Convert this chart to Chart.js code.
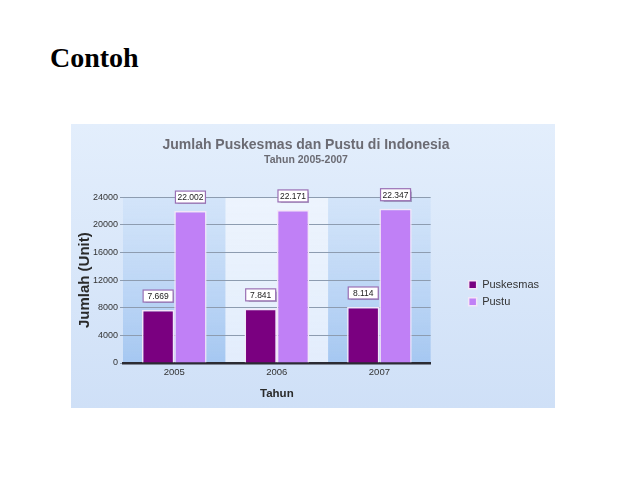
<!DOCTYPE html>
<html>
<head>
<meta charset="utf-8">
<script src="https://cdn.jsdelivr.net/npm/chart.js@4.4.1/dist/chart.umd.min.js"></script>
<style>
  body { margin: 0; background: #fff; width: 638px; height: 478px; position: relative; overflow: hidden; }
  h1 { position: absolute; left: 50px; top: 42px; margin: 0; font: bold 28px "Liberation Serif", serif; color: #000; }
  #panel { position: absolute; left: 71px; top: 124px; width: 484px; height: 284px;
           background: linear-gradient(#e3eefc, #cfe0f7); }
</style>
</head>
<body>
<h1>Contoh</h1>
<div id="panel"><canvas id="chart" width="484" height="284"></canvas></div>
<script>
// Data
const years = ['2005', '2006', '2007'];
const puskesmas = [7669, 7841, 8114];
const pustu = [22002, 22171, 22347];
const yTicks = [0, 4000, 8000, 12000, 16000, 20000, 24000];

function formatId(v) {
  return String(v).replace(/\B(?=(\d{3})+(?!\d))/g, '.');
}

// Alternating category bands behind the grid
const bandPlugin = {
  id: 'bands',
  beforeDraw(chart) {
    const { ctx, chartArea, scales } = chart;
    const x = scales.x;
    const step = chartArea.width / years.length;
    years.forEach((y, i) => {
      const left = x.getPixelForValue(i) - step / 2;
      const g = ctx.createLinearGradient(0, chartArea.top, 0, chartArea.bottom);
      if (i % 2 === 0) {
        g.addColorStop(0, 'rgba(200,222,248,0.5)');
        g.addColorStop(1, 'rgba(160,196,240,0.9)');
      } else {
        g.addColorStop(0, 'rgba(240,246,254,0.8)');
        g.addColorStop(1, 'rgba(228,238,252,0.9)');
      }
      ctx.save();
      ctx.fillStyle = g;
      ctx.fillRect(left, chartArea.top, step, chartArea.bottom - chartArea.top);
      ctx.restore();
    });
  }
};

// Value boxes above the bars
const labelPlugin = {
  id: 'valueBoxes',
  afterDatasetsDraw(chart) {
    const { ctx } = chart;
    chart.data.datasets.forEach((ds, di) => {
      const meta = chart.getDatasetMeta(di);
      meta.data.forEach((bar, i) => {
        const text = formatId(ds.data[i]);
        const w = 30, h = 12;
        const bx = bar.x - w / 2;
        const by = bar.y - 8 - h;
        ctx.save();
        ctx.shadowColor = 'rgba(60,40,90,0.35)';
        ctx.shadowOffsetX = 1;
        ctx.shadowOffsetY = 1;
        ctx.shadowBlur = 1;
        ctx.fillStyle = '#ffffff';
        ctx.fillRect(bx, by, w, h);
        ctx.shadowColor = 'transparent';
        ctx.strokeStyle = '#9a6fb4';
        ctx.lineWidth = 1.2;
        ctx.strokeRect(bx, by, w, h);
        ctx.fillStyle = '#222';
        ctx.font = '8.5px "Liberation Sans", Arial, sans-serif';
        ctx.textAlign = 'center';
        ctx.textBaseline = 'middle';
        ctx.fillText(text, bar.x, by + h / 2 + 0.5);
        ctx.restore();
      });
    });
  }
};

const ctx = document.getElementById('chart').getContext('2d');
new Chart(ctx, {
  type: 'bar',
  data: {
    labels: years,
    datasets: [
      {
        label: 'Puskesmas',
        data: puskesmas,
        backgroundColor: '#7a0080',
        borderColor: '#f3e6f8',
        borderWidth: 1.5,
        barPercentage: 1,
        categoryPercentage: 0.63
      },
      {
        label: 'Pustu',
        data: pustu,
        backgroundColor: '#c080f6',
        borderColor: '#f3e6f8',
        borderWidth: 1.5,
        barPercentage: 1,
        categoryPercentage: 0.63
      }
    ]
  },
  options: {
    responsive: false,
    animation: false,
    layout: { padding: { left: 0, right: 14, top: 0, bottom: 0 } },
    scales: {
      y: {
        min: 0,
        max: 24000,
        afterBuildTicks(scale) {
          scale.ticks = yTicks.map(v => ({ value: v }));
        },
        afterFit(scale) { scale.width = 52; },
        ticks: {
          color: '#333',
          font: { size: 9, family: '"Liberation Sans", Arial, sans-serif' },
          padding: 2,
          callback: v => String(v)
        },
        grid: { color: '#8d9cb0', lineWidth: 1, tickLength: 3, drawTicks: true },
        border: { display: false },
        title: {
          display: true,
          text: 'Jumlah (Unit)',
          color: '#2a2a2a',
          font: { size: 15, weight: 'bold', family: '"Liberation Sans", Arial, sans-serif' },
          padding: { top: 5, bottom: 0 }
        }
      },
      spacer: {
        type: 'linear',
        position: 'right',
        display: true,
        afterFit(scale) { scale.width = 32; },
        ticks: { display: false },
        grid: { display: false },
        border: { display: false }
      },
      x: {
        afterFit(scale) { scale.height = 45; },
        ticks: {
          color: '#333',
          font: { size: 9.5, family: '"Liberation Sans", Arial, sans-serif' },
          padding: 4
        },
        grid: { display: false, drawTicks: false },
        border: { display: true, color: '#2b2b33', width: 2.5 },
        title: {
          display: true,
          text: 'Tahun',
          color: '#2a2a2a',
          font: { size: 11.5, weight: 'bold', family: '"Liberation Sans", Arial, sans-serif' },
          padding: { top: 0, bottom: 7 }
        }
      }
    },
    plugins: {
      title: {
        display: true,
        text: 'Jumlah Puskesmas dan Pustu di Indonesia',
        color: '#6b6b73',
        font: { size: 14, weight: 'bold', family: '"Liberation Sans", Arial, sans-serif' },
        padding: { top: 13, bottom: 0 }
      },
      subtitle: {
        display: true,
        text: 'Tahun 2005-2007',
        color: '#6b6b73',
        font: { size: 10.5, weight: 'bold', family: '"Liberation Sans", Arial, sans-serif', lineHeight: 1 },
        padding: { top: 1, bottom: 32 }
      },
      legend: {
        display: true,
        position: 'right',
        align: 'center',
        title: { display: true, text: '', padding: { top: 40, bottom: 0 } },
        labels: {
          boxWidth: 8,
          boxHeight: 8,
          padding: 6,
          color: '#333',
          font: { size: 11, family: '"Liberation Sans", Arial, sans-serif' }
        }
      },
      tooltip: { enabled: false }
    }
  },
  plugins: [bandPlugin, labelPlugin]
});
</script>
</body>
</html>
